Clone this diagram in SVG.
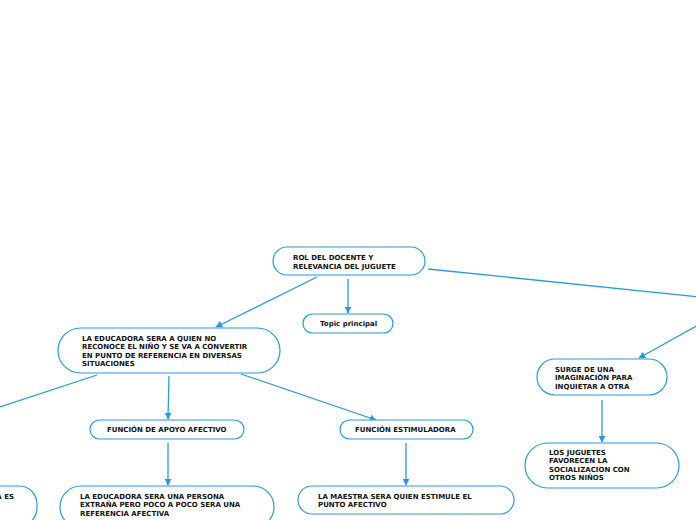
<svg xmlns="http://www.w3.org/2000/svg" width="696" height="520" viewBox="0 0 696 520">
<style>
.n{fill:#fff;stroke:#2a9ae0;stroke-width:1.2}
.t{font-family:"DejaVu Sans",Verdana,sans-serif;font-weight:bold;font-size:7px;fill:#111}
.c{stroke:#2a9ae0;stroke-width:1.3;fill:none}
</style>
<defs><marker id="a" viewBox="0 0 10 10" refX="9" refY="5" markerWidth="7" markerHeight="7" markerUnits="userSpaceOnUse" orient="auto"><path d="M0,0L10,5L0,10z" fill="#2a9ae0"/></marker></defs>
<rect width="696" height="520" fill="#fff"/>
<g id="connectors">
<line class="c" x1="317" y1="277" x2="216" y2="327" marker-end="url(#a)"/>
<line class="c" x1="348" y1="279" x2="348" y2="313" marker-end="url(#a)"/>
<line class="c" x1="428" y1="269" x2="700" y2="297"/>
<line class="c" x1="700" y1="324" x2="639" y2="358" marker-end="url(#a)"/>
<line class="c" x1="97" y1="375" x2="0" y2="407"/>
<line class="c" x1="169" y1="376" x2="168" y2="419" marker-end="url(#a)"/>
<line class="c" x1="241" y1="374" x2="376" y2="420" marker-end="url(#a)"/>
<line class="c" x1="168" y1="443" x2="168" y2="485" marker-end="url(#a)"/>
<line class="c" x1="406" y1="443" x2="406" y2="485" marker-end="url(#a)"/>
<line class="c" x1="602" y1="400" x2="602" y2="442" marker-end="url(#a)"/>
</g>
<g id="root"><rect class="n" x="273" y="247" width="152" height="28" rx="14"/><text class="t" x="293" y="260">ROL DEL DOCENTE Y</text><text class="t" x="293" y="268.5">RELEVANCIA DEL JUGUETE</text></g>
<g id="topic"><rect class="n" x="303" y="314" width="90" height="19" rx="9.5"/><text class="t" x="320" y="326">Topic principal</text></g>
<g id="educadora"><rect class="n" x="58" y="328" width="222" height="45" rx="22.5"/><text class="t" x="82" y="340.5">LA EDUCADORA SERA A QUIEN NO</text><text class="t" x="82" y="349">RECONOCE EL NIÑO Y SE VA A CONVERTIR</text><text class="t" x="82" y="357.5">EN PUNTO DE REFERENCIA EN DIVERSAS</text><text class="t" x="82" y="366">SITUACIONES</text></g>
<g id="apoyo"><rect class="n" x="90" y="420" width="154" height="19" rx="9.5"/><text class="t" x="107" y="432">FUNCIÓN DE APOYO AFECTIVO</text></g>
<g id="estim"><rect class="n" x="340" y="420" width="133" height="19" rx="9.5"/><text class="t" x="355" y="432">FUNCIÓN ESTIMULADORA</text></g>
<g id="persona"><rect class="n" x="60" y="486" width="214" height="42" rx="21"/><text class="t" x="80" y="498.5">LA EDUCADORA SERA UNA PERSONA</text><text class="t" x="80" y="507">EXTRAÑA PERO POCO A POCO SERA UNA</text><text class="t" x="80" y="515.5">REFERENCIA AFECTIVA</text></g>
<g id="maestra"><rect class="n" x="298" y="486" width="216" height="28" rx="14"/><text class="t" x="318" y="498.5">LA MAESTRA SERA QUIEN ESTIMULE EL</text><text class="t" x="318" y="507">PUNTO AFECTIVO</text></g>
<g id="left"><rect class="n" x="-40" y="486" width="77" height="40" rx="18"/><text class="t" x="14" y="498.5" text-anchor="end">A ES</text></g>
<g id="right"><rect class="n" x="698" y="296" width="60" height="30" rx="15"/></g>
<g id="surge"><rect class="n" x="537" y="359" width="130" height="36" rx="18"/><text class="t" x="555" y="371.5">SURGE DE UNA</text><text class="t" x="555" y="380">IMAGINACIÓN PARA</text><text class="t" x="555" y="388.5">INQUIETAR A OTRA</text></g>
<g id="juguetes"><rect class="n" x="525" y="443" width="154" height="45" rx="22.5"/><text class="t" x="549" y="454.5">LOS JUGUETES</text><text class="t" x="549" y="463">FAVORECEN LA</text><text class="t" x="549" y="471.5">SOCIALIZACION CON</text><text class="t" x="549" y="480">OTROS NIÑOS</text></g>
</svg>
